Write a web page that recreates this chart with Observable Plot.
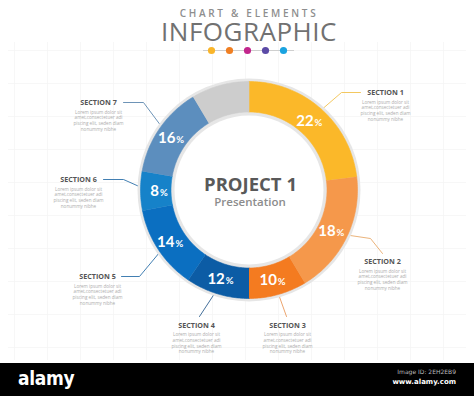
<!DOCTYPE html>
<html><head><meta charset="utf-8">
<script src="https://cdn.jsdelivr.net/npm/d3@7"></script>
<script src="https://cdn.jsdelivr.net/npm/@observablehq/plot@0.6"></script>
<style>
body{margin:0;background:#fff;width:474px;height:396px;overflow:hidden}
#chart svg{display:block}
#footer{height:33px;background:#000;position:relative}
#footer .logo{position:absolute;left:18px;top:4px;font:bold 19px "Liberation Sans Narrow","DejaVu Sans Condensed",sans-serif;color:#fff;letter-spacing:-0.3px}
#footer .id{position:absolute;right:18px;top:5px;font:6px "DejaVu Sans",sans-serif;color:#bbb}
#footer .url{position:absolute;right:18px;top:15px;font:bold 7px "DejaVu Sans",sans-serif;color:#fff}
</style></head>
<body>
<div id="chart"></div>
<div id="footer"><span class="logo">alamy</span><div class="id">Image ID: 2EH2EB9</div><div class="url">www.alamy.com</div></div>
<script>
// ---------- data ----------
const kicker = "CHART & ELEMENTS";
const headline = "INFOGRAPHIC";
const centerTitle = "PROJECT 1";
const centerSubtitle = "Presentation";
const sections = ["SECTION 1","SECTION 2","SECTION 3","SECTION 4","SECTION 5","SECTION 6","SECTION 7"];
const percents = [22, 18, 10, 12, 14, 8, 16];
// angular size (degrees) each slice occupies in the drawing; the rest of the circle is a grey filler slice
const sliceDegrees = [83, 66, 31, 34, 45, 21, 49];
const bodyLines = ["Lorem ipsum dolor sit", "amet,consectetuer adi", "piscing elit, seden diam", "nonummy nibhe"];

// ---------- styles / layout ----------
const sliceColors = ["#FBB829", "#F5984B", "#F47B20", "#0C5CA5", "#0B6FC1", "#1682C9", "#5C8EBE"];
const leaderColors = ["#F2C24E", "#E8AA6C", "#E99A5E", "#2F5F8F", "#2D71A9", "#2D71A9", "#5E88AF"];
const fillerColor = "#CDCDCD";
const dotColors = ["#F9B52A", "#F07F22", "#C2268C", "#5B4AA6", "#1AA3E0"];
const W = 474, H = 363;
const CX = 248.5, CY = 189.5;
const R_BORDER = 111.5, R_OUT = 108.5, R_IN = 78, R_WHITE = 74.5, R_LABEL = 93;
// callout placement: title centre, optional elbow, leader end
const callouts = [
  {tx: 385, ty: 92,  elbow: [341, 92],  end: [360, 92]},
  {tx: 382, ty: 261, elbow: [370, 238], end: [382, 253]},
  {tx: 287, ty: 324.5, elbow: null,     end: [286, 316]},
  {tx: 196, ty: 324.5, elbow: null,     end: [199, 316]},
  {tx: 97,  ty: 276, elbow: [139, 276], end: [121, 276]},
  {tx: 78,  ty: 179, elbow: [123, 179], end: [103, 179]},
  {tx: 98,  ty: 102, elbow: [143, 102], end: [123, 102]}
];

const rad = d => d * Math.PI / 180;
const polar = (deg, r) => [CX + r * Math.sin(rad(deg)), CY - r * Math.cos(rad(deg))];

let acc = 0;
const slices = sliceDegrees.map((d, i) => {
  const s = {i, a0: acc, a1: acc + d, mid: acc + d / 2, color: sliceColors[i], pct: percents[i], name: sections[i]};
  acc += d; return s;
});
const filler = {i: 7, a0: acc, a1: 360, color: fillerColor};

function ringPolygon(s) {
  const n = Math.max(4, Math.ceil(s.a1 - s.a0));
  const pts = [];
  for (let k = 0; k <= n; k++) { const a = s.a0 + (s.a1 - s.a0) * k / n; const [x, y] = polar(a, R_OUT); pts.push({x, y}); }
  for (let k = n; k >= 0; k--) { const a = s.a0 + (s.a1 - s.a0) * k / n; const [x, y] = polar(a, R_IN); pts.push({x, y}); }
  return pts;
}

const leaders = slices.map((s, i) => {
  const c = callouts[i];
  const [sx, sy] = polar(s.mid, 100);
  const pts = [{x: sx, y: sy}];
  if (c.elbow) pts.push({x: c.elbow[0], y: c.elbow[1]});
  pts.push({x: c.end[0], y: c.end[1]});
  return {pts, color: leaderColors[i]};
});

const labelPos = slices.map(s => { const [x, y] = polar(s.mid, R_LABEL); return {x, y, pct: s.pct}; });
const sectionRows = slices.map((s, i) => ({x: callouts[i].tx, y: callouts[i].ty, name: s.name, body: bodyLines.join("\n")}));

const gridX = d3.range(14, W, 33);
const gridY = d3.range(17, 362, 33);
const dotStep = 18, dotX0 = 211, dotY = 50;

const center = [{}];
const marks = [
  Plot.ruleX(gridX, {x: d => d, y1: () => 42, y2: () => 360, stroke: "#f3f3f3", strokeWidth: 0.7}),
  Plot.ruleY(gridY.filter(v => v > 42), {y: d => d, x1: () => 8, x2: () => 466, stroke: "#f3f3f3", strokeWidth: 0.7}),
  Plot.text([kicker], {x: () => CX, y: () => 16.7, text: d => d, fontSize: 10, fontWeight: 600, fill: "#8e8e8e", lineAnchor: "bottom", fontFamily: "Open Sans"}),
  Plot.text([headline], {x: () => CX, y: () => 40.7, text: d => d, fontSize: 26, fontWeight: 500, fill: "#717171", lineAnchor: "bottom", fontFamily: "Open Sans"}),
  Plot.ruleY([dotY], {y: d => d, x1: () => dotX0 - 8, x2: () => dotX0 + dotStep * (dotColors.length - 1) + 11, stroke: "#cfcfcf", strokeWidth: 1}),
  Plot.dot(dotColors, {x: (d, i) => dotX0 + i * dotStep, y: () => dotY, r: 3.6, fill: d => d, stroke: "none"}),
  ...leaders.map(l => Plot.line(l.pts, {x: "x", y: "y", stroke: l.color, strokeWidth: 0.9, curve: "linear"})),
  Plot.dot(center, {x: () => CX, y: () => CY, r: R_BORDER, fill: "#e6e6e6", stroke: "none"}),
  ...[...slices, filler].map(s => Plot.line(ringPolygon(s), {x: "x", y: "y", fill: s.color, stroke: s.color, strokeWidth: 0.6, curve: "linear"})),
  Plot.dot(center, {x: () => CX, y: () => CY, r: R_WHITE, fill: "#ffffff", stroke: "none"}),
  Plot.text([centerTitle], {x: () => CX + 1.5, y: () => 190.7, text: d => d, fontSize: 18.5, fontWeight: 700, fill: "#595959", lineAnchor: "bottom", fontFamily: "Open Sans"}),
  Plot.text([centerSubtitle], {x: () => CX + 1, y: () => 205, text: d => d, fontSize: 11.5, fontWeight: 600, fill: "#8c8c8c", lineAnchor: "bottom", fontFamily: "Open Sans"}),
  Plot.text(labelPos, {x: "x", y: d => d.y + 5.3, dx: 3, text: d => String(d.pct), textAnchor: "end", lineAnchor: "bottom", fontSize: 15, fontWeight: 700, fill: "#ffffff", fontFamily: "Lato"}),
  Plot.text(labelPos, {x: "x", y: d => d.y + 5.3, dx: 4, text: () => "%", textAnchor: "start", lineAnchor: "bottom", fontSize: 9.5, fontWeight: 700, fill: "#ffffff", fontFamily: "Lato"}),
  Plot.text(sectionRows, {x: "x", y: d => d.y + 2.6, text: "name", lineAnchor: "bottom", fontSize: 7.2, fontWeight: 700, fill: "#555555", fontFamily: "Open Sans"}),
  Plot.text(sectionRows, {x: "x", y: d => d.y + 7, text: "body", lineAnchor: "top", lineHeight: 1.25, fontSize: 4.6, fill: "#adadad", fontFamily: "Open Sans"})
];

const chart = Plot.plot({
  width: W, height: H,
  margin: 0,
  x: {type: "linear", domain: [0, W], range: [0, W], axis: null},
  y: {type: "linear", domain: [0, H], range: [0, H], axis: null},
  color: {type: "identity"},
  style: {background: "#ffffff", fontFamily: "Open Sans, sans-serif"},
  marks
});
// letter spacing for the wide-tracked heading texts
d3.select(chart).selectAll("text").each(function () {
  const t = this.textContent;
  if (t === kicker) this.setAttribute("letter-spacing", "2.7");
  else if (t === headline) this.setAttribute("letter-spacing", "0.5");
});
document.getElementById("chart").append(chart);
</script>
</body></html>
